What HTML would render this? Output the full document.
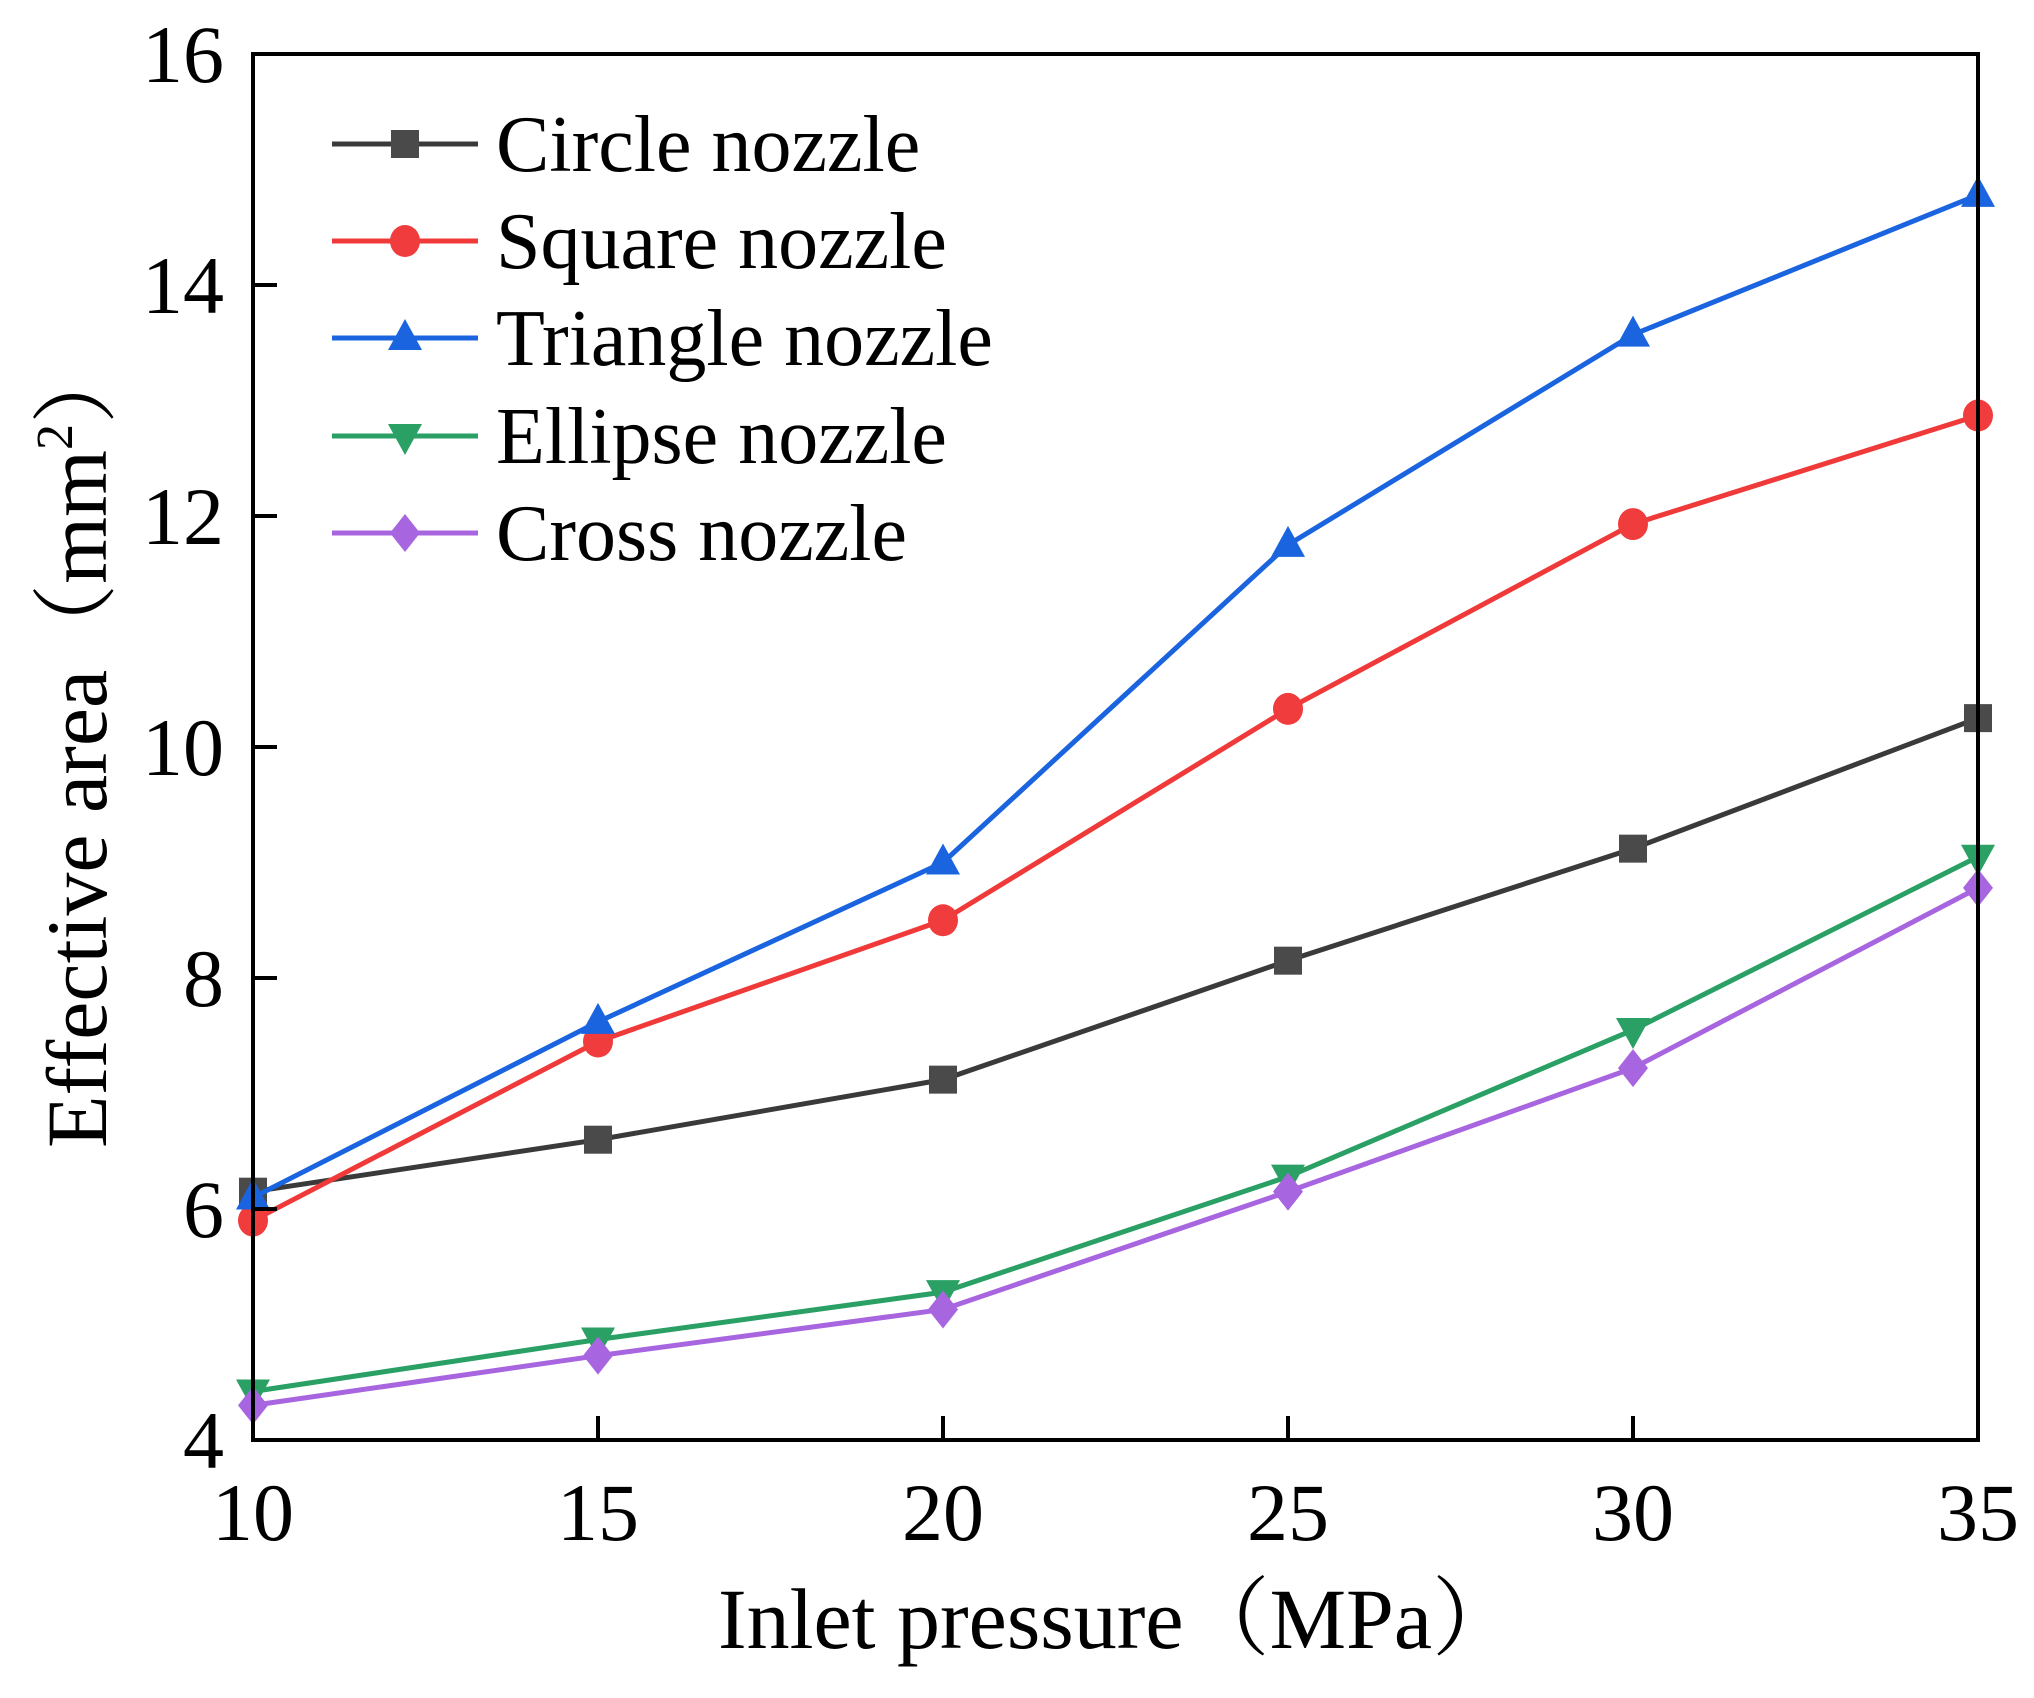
<!DOCTYPE html>
<html><head><meta charset="utf-8"><style>
html,body{margin:0;padding:0;background:#fff;}
svg{display:block;font-family:"Liberation Serif","Noto Serif CJK SC",serif;}
</style></head><body>
<svg id="s" width="2034" height="1698" viewBox="0 0 2034 1698" xmlns="http://www.w3.org/2000/svg">
<rect width="2034" height="1698" fill="#fff"/>
<g id="data"></g>
<rect x="253" y="54" width="1725" height="1386" fill="none" stroke="#000" stroke-width="4"/>
<g stroke="#000" stroke-width="4">
<line x1="598" y1="1440" x2="598" y2="1416"/><line x1="943" y1="1440" x2="943" y2="1416"/>
<line x1="1288" y1="1440" x2="1288" y2="1416"/><line x1="1633" y1="1440" x2="1633" y2="1416"/>
<line x1="253" y1="1209" x2="277" y2="1209"/><line x1="253" y1="978" x2="277" y2="978"/>
<line x1="253" y1="747" x2="277" y2="747"/><line x1="253" y1="516" x2="277" y2="516"/>
<line x1="253" y1="285" x2="277" y2="285"/>
</g>
<g font-size="82" text-anchor="middle">
<text x="253" y="1540">10</text><text x="598" y="1540">15</text><text x="943" y="1540">20</text>
<text x="1288" y="1540">25</text><text x="1633" y="1540">30</text><text x="1978" y="1540">35</text>
</g>
<g font-size="82" text-anchor="end">
<text x="224" y="1468">4</text><text x="224" y="1237">6</text><text x="224" y="1006">8</text>
<text x="224" y="775">10</text><text x="224" y="544">12</text><text x="224" y="313">14</text><text x="224" y="82">16</text>
</g>
<text x="1118" y="1648" font-size="86" text-anchor="middle">Inlet pressure（MPa）</text>
<text transform="translate(106,743) rotate(-90)" font-size="86" text-anchor="middle">Effective area（mm<tspan font-size="52" dy="-34">2</tspan><tspan dy="34">）</tspan></text>
<g id="leg" font-size="80"></g>
</svg>
<script>
const X=v=>253+(v-10)*69, Y=v=>1440-(v-4)*115.5;
const xs=[10,15,20,25,30,35];
const S=[
["Circle nozzle","#3a3a3a","#4a4a4a","sq",[6.15,6.6,7.12,8.15,9.12,10.25]],
["Square nozzle","#f03a3a","#f03c3c","ci",[5.9,7.45,8.5,10.33,11.93,12.87]],
["Triangle nozzle","#1a64e0","#1a64e0","tu",[6.1,7.62,9.0,11.75,13.57,14.78]],
["Ellipse nozzle","#2aa065","#2aa065","td",[4.42,4.87,5.28,6.28,7.55,9.05]],
["Cross nozzle","#a865e0","#a865e0","di",[4.3,4.73,5.13,6.15,7.22,8.78]]];
const NS="http://www.w3.org/2000/svg";
function el(p,t,a){const e=document.createElementNS(NS,t);for(const k in a)e.setAttribute(k,a[k]);p.appendChild(e);return e;}
function mk(p,type,x,y,c){
 if(type=="sq")el(p,"rect",{x:x-14,y:y-14,width:28,height:28,fill:c});
 else if(type=="ci")el(p,"ellipse",{cx:x,cy:y,rx:15,ry:16,fill:c});
 else if(type=="tu")el(p,"polygon",{points:`${x},${y-19} ${x-17},${y+12} ${x+17},${y+12}`,fill:c});
 else if(type=="td")el(p,"polygon",{points:`${x},${y+19} ${x-17},${y-12} ${x+17},${y-12}`,fill:c});
 else el(p,"polygon",{points:`${x},${y-19} ${x-15},${y} ${x},${y+19} ${x+15},${y}`,fill:c});
}
const g=document.getElementById("data"),L=document.getElementById("leg");
const ly=[144,241,338,436,533];
S.forEach((s,i)=>{
 el(g,"polyline",{points:xs.map((x,j)=>X(x)+","+Y(s[4][j])).join(" "),fill:"none",stroke:s[1],"stroke-width":5});
 xs.forEach((x,j)=>mk(g,s[3],X(x),Y(s[4][j]),s[2]));
 el(L,"line",{x1:332,y1:ly[i],x2:478,y2:ly[i],stroke:s[1],"stroke-width":5});
 mk(L,s[3],405,ly[i],s[2]);
 const t=el(L,"text",{x:496,y:ly[i]+27});t.textContent=s[0];
});
</script>
</body></html>
